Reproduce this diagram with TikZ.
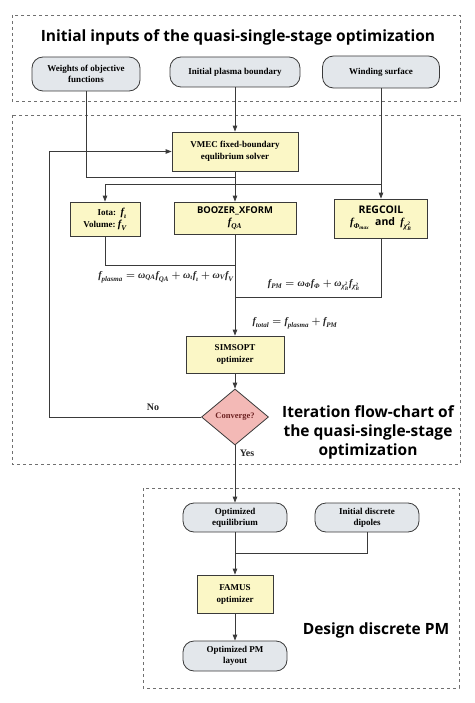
\documentclass[tikz,border=0pt]{standalone}
\usepackage{amsmath}
\usepackage{fontspec}
\setmainfont{Liberation Serif}
\newfontfamily\headfont{Open Sans}
\usetikzlibrary{shapes.geometric,arrows.meta}
\newcommand{\mi}[1]{\text{\bfseries\itshape #1}}
\newcommand{\mathsz}{\fontsize{10.5}{12}\selectfont}
\definecolor{lncol}{HTML}{3A3A3A}
\definecolor{grayfill}{HTML}{E3E7EB}
\definecolor{yelfill}{HTML}{FBF7C6}
\definecolor{pinkfill}{HTML}{F3B9B6}
\definecolor{convtxt}{HTML}{6E2323}
\definecolor{grpcol}{HTML}{707070}
\begin{document}
\begin{tikzpicture}[x=1pt,y=-1pt,
  grp/.style={draw=grpcol, dashed, line width=0.8pt},
  inbox/.style={draw=lncol, fill=grayfill, rounded corners=11pt, line width=0.8pt, align=center,
    font=\fontsize{9}{11}\selectfont\bfseries, inner sep=2pt},
  proc/.style={draw=lncol, fill=yelfill, line width=0.8pt, align=center,
    font=\fontsize{9}{12}\selectfont\bfseries\boldmath, inner sep=2pt},
  dec/.style={diamond, draw=lncol, fill=pinkfill, line width=0.8pt, inner sep=0pt,
    minimum width=67pt, minimum height=56pt, text=convtxt,
    font=\fontsize{8.5}{10}\selectfont\bfseries},
  ttl/.style={font=\headfont\fontsize{15.5}{19}\selectfont\bfseries, align=center},
  lbl/.style={font=\fontsize{10}{12}\selectfont\bfseries\boldmath, text=black!85},
  ln/.style={draw=lncol, line width=0.9pt},
  arr/.style={ln, -{Triangle[length=6pt,width=4.5pt]}}
]
\useasboundingbox (0,0) rectangle (474,703);
% groups
\draw[grp] (12,15) rectangle (460,101);
\draw[grp] (12,115) rectangle (460,464);
\draw[grp] (143,488) rectangle (459,688);
% titles
\node[ttl] (t1) at (238,37) {Initial inputs of the quasi-single-stage optimization};
\node[ttl] (t2) at (368,432) {Iteration flow-chart of\\the quasi-single-stage\\optimization};
\node[ttl] (t3) at (376,630) {Design discrete PM};
% inputs
\node[inbox, minimum width=108pt, minimum height=34pt] (w) at (86,74) {Weights of objective\\functions};
\node[inbox, minimum width=130pt, minimum height=30pt] (p) at (235,72) {Initial plasma boundary};
\node[inbox, minimum width=117pt, minimum height=32pt] (ws) at (381,72) {Winding surface};
% process
\node[proc, minimum width=126pt, minimum height=39pt] (vmec) at (235,151.5) {VMEC fixed-boundary\\equlibrium solver};
\node[proc, minimum width=70pt, minimum height=34pt, align=right] (iota) at (105,219) {Iota:\ \ {\mathsz$\mi{f}_{\mi{ι}}$}\\Volume:\ {\mathsz$\mi{f}_{\mi{V}}$}};
\node[proc, minimum width=122pt, minimum height=32pt] (booz) at (235,218) {{\headfont\fontsize{9.4}{12}\selectfont BOOZER\_XFORM}\\{\mathsz$\mi{f}_{\mi{QA}}$}};
\node[proc, minimum width=93pt, minimum height=39pt] (reg) at (381,218.5) {{\headfont\fontsize{10.5}{12}\selectfont REGCOIL}\\{\mathsz$\mi{f}_{\mi{Φ}_{\mi{max}}}$ {\headfont\fontsize{10.5}{12}\selectfont\ and\ } $\mi{f}_{\mi{χ}^{\mi{2}}_{\mi{B}}}$}};
\node[proc, minimum width=98pt, minimum height=37pt] (sims) at (235,354.5) {SIMSOPT\\optimizer};
\node[dec] (conv) at (235,417) {Converge?};
% design
\node[inbox, minimum width=104pt, minimum height=29pt] (oe) at (235,517.5) {Optimized\\equilibrium};
\node[inbox, minimum width=104pt, minimum height=29pt] (dip) at (367,517.5) {Initial discrete\\dipoles};
\node[proc, minimum width=76pt, minimum height=38pt] (famus) at (235,594) {FAMUS\\optimizer};
\node[inbox, minimum width=104pt, minimum height=30pt] (opm) at (235,656) {Optimized PM\\layout};
% junctions
\coordinate (j1) at (235,177);
\coordinate (j2) at (235,184);
\coordinate (j3) at (235,265);
\coordinate (j4) at (235,297);
\coordinate (fb) at (49,417);
\coordinate (j5) at (235,553);
% connectors
\draw[ln] (w.south) |- (j1);
\draw[arr] (p.south) -- (vmec.north);
\draw[arr] (ws.south) -- (reg.north);
\draw[arr] (vmec.south) -- (booz.north);
\draw[arr] (j2) -| (iota.north);
\draw[ln] (j2) -- (reg.north |- j2);
\draw[ln] (iota.south) |- (j3);
\draw[arr] (booz.south) -- (sims.north);
\draw[ln] (reg.south) |- (j4);
\draw[arr] (sims.south) -- (conv.north);
\draw[arr] (conv.west) -- (fb) |- (vmec.west);
\draw[arr] (conv.south) -- (oe.north);
\draw[arr] (oe.south) -- (famus.north);
\draw[ln] (dip.south) |- (j5);
\draw[arr] (famus.south) -- (opm.north);
% labels
\node[lbl] (lno) at (153,407) {No};
\node[lbl] (lyes) at (247,453) {Yes};
\node[lbl] (lpl) at (166,277) {$\mi{f}_{\mi{plasma}}=\mi{ω}_{\mi{QA}}\mi{f}_{\mi{QA}}+\mi{ω}_{\mi{ι}}\mi{f}_{\mi{ι}}+\mi{ω}_{\mi{V}}\mi{f}_{\mi{V}}$};
\node[lbl] (lpm) at (314,285) {$\mi{f}_{\mi{PM}}=\mi{ω}_{\mi{Φ}}\mi{f}_{\mi{Φ}}+\mi{ω}_{\mi{χ}^{\mi{2}}_{\mi{B}}}\mi{f}_{\mi{χ}^{\mi{2}}_{\mi{B}}}$};
\node[lbl] (ltot) at (295,323) {$\mi{f}_{\mi{total}}=\mi{f}_{\mi{plasma}}+\mi{f}_{\mi{PM}}$};
\end{tikzpicture}
\end{document}
